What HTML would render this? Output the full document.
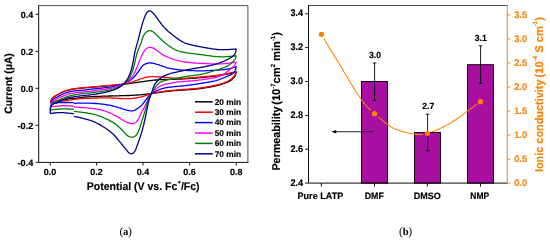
<!DOCTYPE html>
<html><head><meta charset="utf-8"><title>Figure</title>
<style>
html,body{margin:0;padding:0;background:#fff;}
body{width:550px;height:240px;overflow:hidden;}
svg{display:block;}
svg text{text-rendering:geometricPrecision;font-family:"Liberation Sans",Arial,sans-serif;font-weight:bold;fill:#000;stroke:#000;stroke-width:0.16;}
svg text.o{fill:#FF8000;stroke:#FF8000;}
svg text.cap{font-family:"Liberation Serif","Times New Roman",serif;font-weight:normal;stroke:none;}
</style></head><body>
<svg width="550" height="240" viewBox="0 0 550 240">
<rect width="550" height="240" fill="#fff"/>
<!-- left chart (a) -->
<g fill="none" stroke-width="1.3" stroke-linejoin="round" stroke-linecap="butt">
<path d="M50.6 102.5L50.8 101.5L51.1 100.6L51.6 99.7L52.1 98.8L52.7 98L53.4 97.3L54.2 96.7L55.1 96.1L55.9 95.7L56.8 95.2L57.7 94.7L58.6 94.2L59.4 93.7L60.3 93.2L61.2 92.8L62.1 92.3L63 91.9L64 91.6L64.9 91.2L65.9 90.9L66.8 90.6L67.8 90.3L68.7 90.1L69.7 89.8L70.7 89.6L71.7 89.4L72.7 89.2L73.7 89.1L74.7 88.9L75.6 88.8L76.6 88.6L77.6 88.5L78.6 88.4L79.6 88.3L80.6 88.2L81.6 88.1L82.6 88L83.6 87.9L84.6 87.8L85.6 87.7L86.6 87.7L87.6 87.6L88.6 87.5L89.6 87.4L90.6 87.3L91.6 87.3L92.6 87.2L93.6 87.1L94.6 87L95.6 86.9L96.6 86.8L97.6 86.7L98.6 86.6L99.6 86.5L100.6 86.5L101.6 86.4L102.6 86.3L103.6 86.2L104.6 86.1L105.6 86L106.6 85.9L107.6 85.8L108.6 85.7L109.6 85.6L110.6 85.5L111.6 85.5L112.6 85.4L113.6 85.3L114.6 85.2L115.6 85.1L116.6 85L117.6 85L118.6 84.9L119.6 84.8L120.6 84.7L121.6 84.6L122.6 84.4L123.6 84.3L124.6 84.2L125.6 84.1L126.6 83.9L127.6 83.8L128.6 83.7L129.6 83.5L130.6 83.4L131.6 83.2L132.5 83.1L133.5 82.9L134.5 82.8L135.5 82.6L136.5 82.5L137.5 82.3L138.5 82.2L139.5 82.1L140.5 81.9L141.5 81.8L142.5 81.6L143.5 81.5L144.5 81.3L145.5 81.2L146.4 81.1L147.4 80.9L148.4 80.8L149.4 80.7L150.4 80.6L151.4 80.5L152.4 80.3L153.4 80.2L154.4 80.1L155.4 80L156.4 80L157.4 79.9L158.4 79.8L159.4 79.7L160.4 79.7L161.4 79.6L162.4 79.6L163.4 79.5L164.4 79.5L165.4 79.5L166.4 79.5L167.4 79.4L168.4 79.4L169.4 79.4L170.5 79.4L171.5 79.3L172.5 79.3L173.5 79.3L174.5 79.3L175.5 79.2L176.5 79.2L177.5 79.2L178.5 79.1L179.5 79.1L180.5 79L181.5 79L182.5 78.9L183.5 78.9L184.5 78.8L185.5 78.8L186.5 78.7L187.5 78.7L188.5 78.6L189.5 78.5L190.5 78.4L191.5 78.4L192.5 78.3L193.5 78.2L194.5 78.2L195.5 78.1L196.5 78L197.5 77.9L198.5 77.8L199.5 77.7L200.5 77.6L201.5 77.5L202.5 77.5L203.5 77.4L204.5 77.3L205.5 77.2L206.5 77L207.5 76.9L208.5 76.8L209.5 76.7L210.5 76.6L211.5 76.5L212.5 76.4L213.5 76.2L214.5 76.1L215.5 76L216.5 75.8L217.4 75.7L218.4 75.6L219.4 75.4L220.4 75.3L221.4 75.1L222.4 74.9L223.4 74.8L224.4 74.6L225.4 74.4L226.4 74.2L227.3 74.1L228.3 73.9L229.3 73.7L230.3 73.5L231.3 73.3L232.3 73.1L233.3 72.9L234.2 72.7L235.2 72.5L236.2 72.3L236 73.3L235.8 74.3L235.4 75.2L234.9 76.1L234.4 76.9L233.8 77.7L233.1 78.4L232.4 79.1L231.6 79.8L230.8 80.4L229.9 80.9L229 81.4L228.1 81.8L227.2 82.2L226.3 82.6L225.4 83L224.4 83.4L223.5 83.7L222.5 84L221.6 84.3L220.6 84.6L219.7 84.9L218.7 85.1L217.7 85.4L216.7 85.6L215.8 85.9L214.8 86.1L213.8 86.3L212.8 86.5L211.8 86.7L210.9 86.9L209.9 87.1L208.9 87.2L207.9 87.4L206.9 87.6L205.9 87.7L204.9 87.9L203.9 88L202.9 88.2L201.9 88.3L200.9 88.5L200 88.6L199 88.7L198 88.9L197 89L196 89.1L195 89.2L194 89.3L193 89.4L192 89.5L191 89.5L190 89.6L189 89.7L188 89.7L187 89.8L186 89.9L185 89.9L184 90L183 90L182 90.1L181 90.2L180 90.2L179 90.3L178 90.4L177 90.5L176 90.5L175 90.6L174 90.7L173 90.8L172 90.9L171 91L170 91.1L169 91.2L168 91.3L167 91.4L166 91.5L165 91.7L164 91.8L163 91.9L162 92.1L161 92.2L160 92.3L159 92.5L158 92.6L157 92.8L156 92.9L155 93.1L154 93.2L153.1 93.4L152.1 93.5L151.1 93.6L150.1 93.8L149.1 93.9L148.1 94L147.1 94.1L146.1 94.2L145.1 94.3L144.1 94.4L143.1 94.5L142.1 94.6L141.1 94.7L140.1 94.8L139.1 94.9L138.1 94.9L137.1 95L136.1 95.1L135.1 95.2L134.1 95.2L133.1 95.3L132.1 95.3L131.1 95.4L130.1 95.4L129.1 95.5L128.1 95.5L127.1 95.5L126.1 95.6L125.1 95.6L124.1 95.6L123.1 95.7L122.1 95.7L121 95.7L120 95.7L119 95.8L118 95.8L117 95.8L116 95.8L115 95.9L114 95.9L113 95.9L112 95.9L111 96L110 96L109 96L108 96.1L107 96.1L106 96.1L105 96.1L104 96.2L103 96.2L102 96.2L101 96.3L100 96.3L99 96.3L98 96.4L97 96.4L96 96.4L95 96.5L94 96.5L93 96.6L92 96.6L91 96.7L90 96.7L89 96.8L88 96.9L87 96.9L86 97L85 97.1L84 97.2L83 97.3L82 97.5L81 97.6L80 97.7L79 97.9L78 98L77 98.2L76 98.3L75 98.3L74 98.4M74 98.4L73 98.4L71.9 98.4L70.9 98.5L69.9 98.7L68.8 98.8L67.8 99.1L66.8 99.3L65.8 99.6L64.8 99.9L63.8 100.1L62.8 100.4L61.8 100.7L60.8 101L59.8 101.2L58.8 101.5L57.8 101.7L56.8 101.9L55.8 102L54.7 102.2L53.7 102.3L52.7 102.4L51.6 102.4L50.6 102.5" stroke="#000000"/>
<path d="M50.6 102.3L50.8 101.3L51.1 100.4L51.6 99.5L52.1 98.6L52.7 97.8L53.4 97.1L54.2 96.5L55 96L55.9 95.5L56.8 95L57.7 94.5L58.6 94L59.4 93.5L60.3 93L61.2 92.6L62.1 92.1L63 91.7L64 91.4L64.9 91L65.8 90.7L66.8 90.4L67.8 90.1L68.7 89.9L69.7 89.6L70.7 89.4L71.7 89.2L72.7 89L73.6 88.9L74.6 88.7L75.6 88.6L76.6 88.4L77.6 88.3L78.6 88.2L79.6 88.1L80.6 88L81.6 87.9L82.6 87.8L83.6 87.7L84.6 87.6L85.6 87.5L86.6 87.5L87.6 87.4L88.6 87.3L89.6 87.2L90.6 87.2L91.6 87.1L92.6 87L93.6 86.9L94.6 86.8L95.6 86.7L96.6 86.6L97.6 86.5L98.6 86.5L99.6 86.4L100.6 86.3L101.6 86.2L102.6 86.1L103.6 86L104.6 85.9L105.6 85.8L106.6 85.7L107.6 85.6L108.6 85.5L109.6 85.4L110.6 85.3L111.6 85.3L112.6 85.2L113.6 85.1L114.6 85L115.6 84.9L116.6 84.8L117.6 84.7L118.6 84.6L119.5 84.4L120.5 84.3L121.5 84.2L122.5 84L123.5 83.8L124.5 83.7L125.5 83.5L126.5 83.3L127.5 83.2L128.4 82.9L129.4 82.7L130.4 82.5L131.4 82.2L132.3 81.9L133.3 81.6L134.2 81.2L135.1 80.9L136.1 80.5L137 80.2L138 79.8L138.9 79.4L139.8 79.1L140.8 78.8L141.7 78.5L142.7 78.2L143.7 77.9L144.6 77.6L145.6 77.4L146.6 77.2L147.6 77L148.6 76.9L149.6 76.8L150.6 76.7L151.6 76.7L152.6 76.7L153.6 76.7L154.6 76.7L155.6 76.8L156.6 76.8L157.6 76.9L158.6 76.9L159.6 77L160.6 77L161.6 77.1L162.6 77.2L163.6 77.2L164.6 77.3L165.6 77.4L166.6 77.4L167.6 77.5L168.6 77.6L169.6 77.7L170.6 77.8L171.6 78L172.6 78.1L173.6 78.1L174.6 78.2L175.6 78.3L176.6 78.3L177.6 78.4L178.6 78.4L179.6 78.4L180.6 78.4L181.6 78.4L182.6 78.3L183.6 78.3L184.6 78.3L185.6 78.2L186.6 78.2L187.6 78.1L188.6 78L189.6 78L190.6 77.9L191.6 77.8L192.6 77.7L193.6 77.7L194.6 77.6L195.6 77.5L196.6 77.4L197.6 77.3L198.6 77.2L199.6 77.1L200.6 77L201.6 76.9L202.6 76.8L203.6 76.7L204.6 76.6L205.6 76.5L206.6 76.5L207.6 76.4L208.6 76.3L209.6 76.2L210.6 76.1L211.6 76L212.6 75.9L213.6 75.7L214.6 75.6L215.5 75.5L216.5 75.4L217.5 75.3L218.5 75.1L219.5 75L220.5 74.9L221.5 74.7L222.5 74.5L223.5 74.4L224.5 74.2L225.5 74L226.4 73.8L227.4 73.6L228.4 73.4L229.4 73.2L230.4 72.9L231.3 72.7L232.3 72.5L233.3 72.2L234.3 72L235.2 71.7L236.2 71.5L236 72.5L235.7 73.4L235.3 74.3L234.7 75.2L234.2 76L233.5 76.8L232.9 77.5L232.2 78.2L231.4 78.9L230.6 79.5L229.8 80.1L229 80.6L228.1 81.1L227.2 81.5L226.3 81.9L225.3 82.3L224.4 82.7L223.4 83L222.5 83.3L221.5 83.6L220.6 83.9L219.6 84.2L218.7 84.4L217.7 84.7L216.7 84.9L215.7 85.2L214.8 85.4L213.8 85.6L212.8 85.8L211.8 86L210.9 86.2L209.9 86.4L208.9 86.6L207.9 86.8L206.9 86.9L205.9 87.1L204.9 87.3L203.9 87.4L203 87.6L202 87.7L201 87.9L200 88L199 88.1L198 88.3L197 88.4L196 88.5L195 88.6L194 88.7L193 88.8L192 88.9L191 89L190 89L189 89.1L188 89.2L187 89.2L186 89.3L185 89.4L184 89.5L183 89.5L182 89.6L181 89.7L180 89.7L179 89.8L178 89.9L177.1 90L176.1 90.1L175.1 90.1L174.1 90.2L173.1 90.3L172.1 90.4L171.1 90.5L170.1 90.6L169.1 90.7L168.1 90.8L167.1 90.9L166.1 91L165.1 91.1L164.1 91.3L163.1 91.4L162.1 91.5L161.1 91.7L160.1 91.8L159.1 92L158.2 92.1L157.2 92.3L156.2 92.5L155.2 92.7L154.2 92.9L153.2 93.1L152.3 93.3L151.3 93.6L150.4 93.9L149.4 94.3L148.5 94.6L147.6 95L146.6 95.3L145.7 95.6L144.7 95.9L143.7 96.2L142.8 96.5L141.8 96.7L140.8 97L139.9 97.2L138.9 97.5L137.9 97.7L136.9 97.8L135.9 98L135 98.1L134 98.2L133 98.3L132 98.4L131 98.5L130 98.6L129 98.6L128 98.7L127 98.7L126 98.7L125 98.7L124 98.7L123 98.7L122 98.6L121 98.5L120 98.5L119 98.4L118 98.3L117 98.3L116 98.2L115 98.1L114 98.1L113 98L112 98L111 97.9L110 97.9L109 97.8L108 97.8L107 97.8L106 97.8L105 97.8L104 97.8L103 97.8L102 97.8L101 97.9L100 97.9L99 97.9L98 98L97 98L96 98L95 98.1L94 98.1L93 98.2L92 98.2L91 98.3L90 98.3L89 98.3L88 98.3L87 98.4L86 98.4L85 98.4L84 98.4L83 98.5L82 98.5L81 98.6L80 98.7L79 98.8L78 98.9L77 99L76 99.2L75 99.3L74 99.4M74 99.4L73 99.6L72 99.7L71 99.9L70 100.1L68.9 100.2L67.9 100.3L66.9 100.5L65.9 100.6L64.9 100.7L63.8 100.8L62.8 100.9L61.8 101L60.8 101.1L59.8 101.2L58.7 101.3L57.7 101.4L56.7 101.5L55.7 101.6L54.7 101.7L53.6 101.8L52.6 101.9L51.6 102.1L50.6 102.3" stroke="#FF0000"/>
<path d="M51 103.7L51.1 102.7L51.4 101.7L51.9 100.9L52.5 100.1L53.2 99.4L54 98.7L54.8 98.2L55.7 97.7L56.6 97.3L57.5 96.8L58.3 96.3L59.2 95.9L60.1 95.4L61 95L61.9 94.5L62.8 94.1L63.8 93.7L64.7 93.3L65.6 93L66.6 92.6L67.5 92.3L68.5 92L69.4 91.8L70.4 91.6L71.4 91.4L72.4 91.2L73.4 91.1L74.4 90.9L75.4 90.8L76.4 90.7L77.4 90.6L78.3 90.5L79.3 90.5L80.3 90.4L81.3 90.3L82.3 90.2L83.3 90.2L84.3 90.1L85.3 90L86.3 89.8L87.3 89.7L88.3 89.5L89.3 89.4L90.3 89.3L91.3 89.1L92.3 89L93.3 88.9L94.3 88.8L95.3 88.7L96.3 88.6L97.3 88.5L98.2 88.4L99.2 88.3L100.2 88.2L101.2 88.1L102.2 88L103.2 87.9L104.2 87.8L105.2 87.7L106.2 87.6L107.2 87.5L108.2 87.4L109.2 87.2L110.2 87.1L111.2 86.9L112.2 86.7L113.1 86.5L114.1 86.3L115.1 86.1L116.1 85.8L117 85.6L118 85.4L119 85.1L120 84.9L120.9 84.7L121.9 84.4L122.9 84.1L123.8 83.8L124.7 83.4L125.6 82.9L126.4 82.3L127.3 81.8L128.2 81.4L129.1 80.9L129.9 80.4L130.8 79.9L131.6 79.3L132.4 78.6L133.1 78L133.8 77.3L134.5 76.5L135.2 75.8L135.8 75L136.4 74.2L137 73.4L137.6 72.6L138.2 71.8L138.8 71L139.4 70.2L139.9 69.3L140.5 68.5L141.1 67.7L141.7 66.9L142.3 66.1L143 65.4L143.8 64.8L144.7 64.3L145.6 63.9L146.5 63.5L147.5 63.3L148.5 63L149.4 62.9L150.5 62.9L151.4 63L152.4 63.2L153.4 63.4L154.4 63.6L155.4 63.8L156.3 64.1L157.3 64.4L158.3 64.6L159.2 64.9L160.2 65.3L161.1 65.6L162 65.9L163 66.3L163.9 66.6L164.9 66.9L165.8 67.3L166.8 67.6L167.7 67.8L168.7 68.1L169.7 68.3L170.7 68.6L171.6 68.7L172.6 68.9L173.6 69.1L174.6 69.2L175.6 69.4L176.6 69.5L177.6 69.6L178.6 69.7L179.6 69.9L180.6 70L181.6 70.1L182.6 70.1L183.6 70.2L184.6 70.3L185.6 70.4L186.6 70.4L187.6 70.5L188.6 70.5L189.6 70.6L190.6 70.6L191.6 70.7L192.6 70.7L193.6 70.7L194.6 70.7L195.6 70.8L196.6 70.8L197.6 70.8L198.6 70.8L199.6 70.8L200.6 70.8L201.6 70.8L202.6 70.8L203.6 70.8L204.6 70.8L205.6 70.7L206.6 70.7L207.6 70.7L208.6 70.6L209.6 70.6L210.6 70.5L211.6 70.5L212.6 70.4L213.6 70.4L214.6 70.3L215.6 70.3L216.6 70.2L217.6 70.1L218.6 70.1L219.6 70L220.6 69.9L221.6 69.8L222.6 69.7L223.6 69.6L224.6 69.5L225.5 69.4L226.5 69.3L227.5 69.1L228.5 68.9L229.5 68.7L230.5 68.5L231.4 68.2L232.4 67.9L233.3 67.6L234.3 67.3L235.3 67L236.2 66.7L236 67.7L235.7 68.7L235.5 69.6L235.1 70.6L234.7 71.5L234.2 72.3L233.4 73L232.6 73.6L231.8 74.1L230.9 74.6L230 75.1L229.1 75.5L228.1 75.9L227.2 76.3L226.3 76.7L225.4 77.1L224.5 77.5L223.5 77.9L222.6 78.2L221.7 78.6L220.7 79L219.8 79.4L218.9 79.7L217.9 80L216.9 80.3L216 80.6L215 80.9L214 81.1L213 81.3L212.1 81.5L211.1 81.7L210.1 81.9L209.1 82.1L208.1 82.2L207.1 82.4L206.1 82.6L205.1 82.7L204.1 82.9L203.1 83L202.1 83.2L201.2 83.4L200.2 83.5L199.2 83.7L198.2 83.8L197.2 84L196.2 84.1L195.2 84.3L194.2 84.4L193.2 84.6L192.2 84.7L191.2 84.8L190.2 85L189.2 85.1L188.2 85.2L187.2 85.3L186.2 85.5L185.2 85.6L184.2 85.7L183.2 85.8L182.2 85.9L181.2 86L180.2 86.1L179.2 86.2L178.2 86.3L177.2 86.4L176.2 86.5L175.2 86.6L174.2 86.7L173.2 86.8L172.2 86.9L171.2 87L170.2 87.1L169.2 87.2L168.2 87.4L167.2 87.5L166.2 87.7L165.2 87.9L164.3 88.1L163.3 88.3L162.3 88.6L161.4 88.9L160.4 89.2L159.5 89.6L158.5 90L157.6 90.4L156.7 90.8L155.8 91.2L154.9 91.6L153.9 92L153.1 92.5L152.2 93L151.4 93.6L150.6 94.2L149.9 94.9L149.2 95.6L148.5 96.4L147.9 97.2L147.3 98L146.7 98.8L146.1 99.6L145.5 100.4L144.9 101.2L144.3 102L143.7 102.8L143 103.6L142.4 104.3L141.7 105.1L141 105.8L140.2 106.5L139.5 107.1L138.7 107.7L137.9 108.3L137 108.9L136.2 109.4L135.3 109.9L134.4 110.3L133.4 110.6L132.4 110.8L131.4 110.9L130.4 110.8L129.4 110.7L128.4 110.5L127.5 110.3L126.5 110L125.5 109.8L124.6 109.5L123.6 109.2L122.6 108.9L121.7 108.6L120.7 108.2L119.8 107.9L118.8 107.6L117.9 107.3L116.9 107L115.9 106.8L115 106.5L114 106.2L113 106L112 105.8L111.1 105.5L110.1 105.3L109.1 105.1L108.1 105L107.1 104.8L106.1 104.6L105.1 104.5L104.1 104.4L103.1 104.2L102.1 104.1L101.1 104L100.1 103.9L99.1 103.8L98.1 103.7L97.1 103.6L96.1 103.5L95.1 103.5L94.1 103.4L93.1 103.4L92.1 103.3L91.1 103.3L90.1 103.2L89.1 103.2L88.1 103.2L87.1 103.2L86.1 103.2L85.1 103.2L84.1 103.2L83 103.2L82 103.2L81 103.2L80 103.2L79 103.2L78 103.2L77 103.2L76 103.3L75 103.3L74 103.3M74 102.7L73 102.7L72 102.6L71 102.6L70 102.6L69 102.5L68 102.5L67 102.5L66 102.5L65 102.5L64 102.5L63 102.5L62 102.5L61 102.6L60 102.6L59 102.7L58 102.8L57 102.9L56 103L55 103.1L54 103.2L53 103.4L52 103.5L51 103.7" stroke="#0000FF"/>
<path d="M51 106.9L51 105.9L51 104.9L51.2 103.9L51.7 103L52.3 102.2L53 101.5L53.8 100.8L54.5 100.2L55.4 99.7L56.2 99.1L57.1 98.7L58 98.2L59 97.8L59.9 97.5L60.8 97.1L61.8 96.7L62.7 96.3L63.6 95.9L64.5 95.6L65.5 95.2L66.4 94.8L67.4 94.5L68.3 94.2L69.3 93.9L70.3 93.7L71.3 93.5L72.2 93.3L73.2 93.1L74.2 92.9L75.2 92.8L76.2 92.7L77.2 92.5L78.2 92.4L79.2 92.3L80.2 92.2L81.2 92.1L82.2 92L83.2 91.9L84.2 91.8L85.2 91.7L86.2 91.6L87.2 91.5L88.2 91.5L89.2 91.4L90.2 91.3L91.2 91.1L92.2 91L93.2 90.9L94.2 90.7L95.2 90.5L96.2 90.4L97.2 90.2L98.2 90.1L99.2 89.9L100.2 89.8L101.2 89.6L102.2 89.5L103.2 89.4L104.2 89.2L105.2 89.1L106.2 89L107.1 88.8L108.1 88.6L109.1 88.5L110.1 88.3L111.1 88.1L112.1 87.8L113.1 87.6L114 87.3L115 87L116 86.8L116.9 86.5L117.9 86.1L118.8 85.8L119.8 85.5L120.7 85.1L121.7 84.8L122.6 84.4L123.5 84L124.4 83.5L125.2 82.9L126 82.3L126.8 81.8L127.7 81.2L128.5 80.6L129.2 79.9L130 79.2L130.7 78.5L131.3 77.7L131.9 76.9L132.5 76.1L133 75.3L133.6 74.4L134.1 73.5L134.5 72.6L135 71.7L135.4 70.8L135.8 69.9L136.2 69L136.6 68.1L137 67.1L137.4 66.2L137.8 65.3L138.1 64.3L138.5 63.4L138.8 62.5L139.2 61.5L139.6 60.6L139.9 59.6L140.3 58.7L140.7 57.8L141.1 56.9L141.5 55.9L141.9 55L142.4 54.1L142.9 53.2L143.4 52.4L143.9 51.5L144.4 50.7L145.1 49.9L145.8 49.2L146.5 48.5L147.4 48L148.3 47.6L149.3 47.4L150.3 47.4L151.3 47.5L152.3 47.8L153.2 48.2L154.1 48.6L155 49.1L155.8 49.7L156.7 50.3L157.5 50.9L158.3 51.5L159.1 52.1L159.9 52.7L160.7 53.3L161.5 53.9L162.3 54.4L163.2 54.9L164.1 55.4L165 55.9L165.9 56.3L166.8 56.7L167.7 57.1L168.7 57.5L169.6 57.8L170.5 58.2L171.5 58.6L172.4 58.9L173.4 59.3L174.3 59.6L175.3 59.9L176.2 60.2L177.2 60.4L178.2 60.7L179.2 60.9L180.2 61.1L181.1 61.3L182.1 61.5L183.1 61.7L184.1 61.8L185.1 62L186.1 62.1L187.1 62.3L188.1 62.4L189.1 62.5L190.1 62.6L191.1 62.7L192.1 62.8L193.1 62.9L194.1 63L195.1 63L196.1 63.1L197.1 63.1L198.1 63.2L199.1 63.3L200.1 63.3L201.1 63.4L202.1 63.4L203.1 63.5L204.1 63.5L205.2 63.6L206.2 63.6L207.2 63.7L208.2 63.7L209.2 63.8L210.2 63.8L211.2 63.9L212.2 63.9L213.2 64L214.2 64L215.2 64L216.2 64L217.2 64L218.2 64L219.2 63.9L220.2 63.9L221.2 63.8L222.2 63.8L223.2 63.7L224.2 63.7L225.2 63.6L226.2 63.5L227.2 63.4L228.2 63.3L229.2 63.2L230.2 63L231.2 62.9L232.2 62.8L233.2 62.6L234.2 62.4L235.2 62.3L236.2 62.1L235.8 63L235.3 63.9L234.8 64.8L234.2 65.6L233.6 66.3L232.9 67L232.1 67.7L231.4 68.4L230.6 69L229.8 69.6L229 70.2L228.2 70.8L227.4 71.4L226.6 72L225.8 72.6L224.9 73.2L224.1 73.7L223.2 74.3L222.4 74.8L221.5 75.3L220.6 75.8L219.7 76.2L218.8 76.6L217.9 76.9L216.9 77.2L215.9 77.4L214.9 77.6L214 77.8L213 78L212 78.2L211 78.4L210 78.5L209 78.7L208 78.8L207 79L206 79.1L205.1 79.3L204.1 79.4L203.1 79.5L202.1 79.7L201.1 79.8L200.1 79.9L199.1 80L198.1 80.2L197.1 80.3L196.1 80.4L195.1 80.5L194.1 80.6L193.1 80.7L192.1 80.8L191.1 80.9L190.1 80.9L189.1 81L188.1 81.1L187.1 81.2L186.1 81.3L185.1 81.4L184.1 81.4L183.1 81.5L182.1 81.6L181.1 81.7L180.1 81.8L179.1 81.8L178.1 81.9L177.1 82L176.1 82.2L175.1 82.3L174.1 82.5L173.2 82.7L172.2 82.9L171.2 83.1L170.2 83.3L169.2 83.4L168.2 83.6L167.2 83.8L166.3 84L165.3 84.2L164.3 84.5L163.3 84.8L162.4 85.1L161.4 85.4L160.5 85.8L159.6 86.3L158.8 86.8L158 87.4L157.1 88L156.4 88.6L155.6 89.2L154.8 89.8L154.1 90.5L153.3 91.2L152.6 91.9L152 92.7L151.4 93.5L150.8 94.3L150.3 95.2L149.8 96L149.3 96.9L148.9 97.8L148.4 98.7L148 99.6L147.6 100.5L147.2 101.5L146.8 102.4L146.3 103.3L145.9 104.2L145.4 105.1L145 106L144.5 106.9L144.1 107.8L143.6 108.6L143.1 109.5L142.7 110.4L142.2 111.3L141.8 112.2L141.3 113.1L140.9 114L140.5 114.9L140 115.8L139.5 116.7L139.1 117.6L138.6 118.5L138.1 119.3L137.6 120.2L137 121L136.4 121.8L135.6 122.5L134.8 123L133.8 123.4L132.9 123.5L131.9 123.6L130.9 123.5L129.9 123.3L128.9 123.1L128 122.7L127 122.3L126.1 121.9L125.2 121.5L124.3 121L123.5 120.5L122.6 120L121.8 119.5L120.9 119L120 118.4L119.2 117.9L118.3 117.4L117.5 116.8L116.6 116.3L115.8 115.8L114.9 115.3L114 114.9L113.1 114.4L112.2 114L111.3 113.5L110.4 113.1L109.5 112.7L108.5 112.3L107.6 112L106.7 111.6L105.7 111.3L104.8 111L103.8 110.7L102.8 110.4L101.9 110.2L100.9 109.9L99.9 109.7L98.9 109.5L97.9 109.3L97 109.1L96 109L95 108.8L94 108.7L93 108.6L92 108.4L91 108.3L90 108.2L89 108.1L88 108L87 107.9L86 107.9L85 107.8L84 107.7L83 107.6L82 107.6L81 107.5L80 107.4L79 107.3L78 107.3L77 107.2L76 107.1L75 107.1L74 107M74 106.2L73 106.1L72 106L71 106L70 105.9L69 105.8L68 105.8L67 105.7L66 105.7L65 105.7L64 105.7L63 105.7L62 105.7L61 105.7L60 105.8L59 105.9L58 106L57 106.1L56 106.2L55 106.3L54 106.5L53 106.6L52 106.8L51 106.9" stroke="#FF00FF"/>
<path d="M50.5 110L50.5 109L50.5 108L50.6 107L50.8 106L51.2 105.1L51.8 104.3L52.5 103.5L53.2 102.9L54.1 102.3L54.9 101.8L55.8 101.4L56.7 100.9L57.6 100.5L58.5 100.1L59.4 99.7L60.4 99.3L61.3 98.9L62.2 98.5L63.2 98.1L64.1 97.8L65 97.4L66 97.1L66.9 96.7L67.9 96.4L68.9 96.1L69.8 95.9L70.8 95.6L71.8 95.4L72.8 95.2L73.7 95L74.7 94.8L75.7 94.6L76.7 94.4L77.7 94.3L78.7 94.1L79.7 94L80.7 93.8L81.7 93.7L82.7 93.6L83.7 93.4L84.7 93.3L85.7 93.2L86.7 93.2L87.7 93.1L88.7 93L89.7 92.9L90.7 92.8L91.7 92.7L92.7 92.6L93.7 92.5L94.6 92.4L95.6 92.2L96.6 92.1L97.6 91.9L98.6 91.8L99.6 91.7L100.6 91.5L101.6 91.4L102.6 91.2L103.6 91.1L104.6 90.9L105.6 90.7L106.6 90.5L107.5 90.3L108.5 90.1L109.5 89.9L110.5 89.7L111.5 89.4L112.4 89.2L113.4 88.9L114.3 88.6L115.3 88.2L116.2 87.9L117.2 87.5L118.1 87.1L119 86.7L119.9 86.2L120.8 85.7L121.6 85.2L122.5 84.7L123.3 84.1L124.1 83.6L124.9 82.9L125.7 82.3L126.4 81.6L127.1 80.9L127.8 80.1L128.4 79.3L129 78.5L129.5 77.6L130 76.8L130.4 75.9L130.8 74.9L131.2 74L131.6 73.1L132 72.2L132.3 71.2L132.6 70.3L133 69.3L133.3 68.3L133.5 67.4L133.8 66.4L134.1 65.4L134.3 64.5L134.6 63.5L134.8 62.5L135 61.5L135.3 60.6L135.5 59.6L135.7 58.6L135.9 57.6L136.1 56.7L136.4 55.7L136.6 54.7L136.9 53.7L137.2 52.8L137.5 51.8L137.8 50.9L138.1 49.9L138.5 49L138.9 48.1L139.3 47.1L139.7 46.2L140.1 45.3L140.5 44.4L140.8 43.4L141.2 42.5L141.5 41.5L141.7 40.6L142 39.6L142.4 38.6L142.7 37.7L143.1 36.8L143.5 35.9L144 35L144.5 34.1L145.1 33.3L145.8 32.6L146.6 31.9L147.4 31.3L148.3 30.9L149.3 30.6L150.3 30.6L151.2 30.9L152.1 31.3L153 31.8L153.8 32.4L154.6 33L155.4 33.6L156.1 34.3L156.8 35.1L157.5 35.8L158.2 36.5L158.9 37.2L159.6 37.9L160.3 38.6L161.1 39.3L161.8 40L162.5 40.7L163.3 41.4L164 42L164.8 42.7L165.6 43.3L166.4 43.9L167.2 44.6L168 45.2L168.8 45.7L169.6 46.3L170.4 46.9L171.3 47.4L172.1 48L173 48.5L173.9 49L174.7 49.5L175.6 49.9L176.6 50.3L177.5 50.7L178.4 51L179.4 51.3L180.4 51.6L181.3 51.8L182.3 52L183.3 52.2L184.3 52.4L185.3 52.6L186.3 52.8L187.3 52.9L188.3 53.1L189.3 53.2L190.2 53.3L191.2 53.5L192.2 53.6L193.2 53.7L194.2 53.8L195.2 53.9L196.2 54.1L197.2 54.2L198.2 54.3L199.2 54.4L200.2 54.5L201.2 54.6L202.2 54.8L203.2 54.9L204.2 55L205.2 55.2L206.2 55.3L207.2 55.5L208.2 55.6L209.2 55.7L210.2 55.9L211.2 56L212.2 56.2L213.2 56.3L214.2 56.4L215.2 56.5L216.2 56.6L217.2 56.6L218.2 56.7L219.2 56.7L220.2 56.8L221.2 56.8L222.2 56.8L223.2 56.8L224.2 56.8L225.2 56.7L226.2 56.7L227.2 56.6L228.2 56.6L229.2 56.5L230.2 56.5L231.2 56.4L232.2 56.3L233.2 56.2L234.2 56.1L235.2 56L236.2 55.9L235.9 56.9L235.6 57.8L235.2 58.7L234.7 59.6L234.1 60.4L233.5 61.2L232.8 61.9L232 62.6L231.3 63.3L230.5 63.9L229.7 64.5L228.9 65.1L228 65.6L227.1 66.1L226.2 66.6L225.3 67L224.4 67.4L223.4 67.7L222.5 68.1L221.5 68.4L220.6 68.7L219.6 69L218.7 69.3L217.7 69.6L216.8 69.9L215.8 70.2L214.8 70.5L213.9 70.8L212.9 71.1L211.9 71.4L211 71.7L210 72L209.1 72.3L208.1 72.6L207.1 72.9L206.2 73.2L205.2 73.4L204.2 73.7L203.2 73.9L202.3 74.1L201.3 74.3L200.3 74.5L199.3 74.7L198.3 74.8L197.3 75L196.3 75.1L195.3 75.2L194.3 75.3L193.3 75.5L192.3 75.6L191.3 75.7L190.3 75.9L189.3 76L188.3 76.1L187.3 76.3L186.3 76.4L185.3 76.6L184.3 76.8L183.3 76.9L182.3 77.1L181.4 77.3L180.4 77.4L179.4 77.6L178.4 77.8L177.4 78L176.4 78.1L175.4 78.3L174.4 78.5L173.4 78.7L172.4 78.9L171.4 79.1L170.5 79.3L169.5 79.5L168.5 79.7L167.5 79.9L166.5 80.1L165.5 80.3L164.6 80.6L163.6 80.9L162.7 81.2L161.7 81.6L160.8 82L159.9 82.5L159.1 83.1L158.3 83.7L157.6 84.4L156.9 85.1L156.2 85.9L155.6 86.7L155 87.5L154.4 88.3L153.9 89.2L153.3 90L152.8 90.9L152.3 91.8L151.8 92.6L151.3 93.5L150.9 94.4L150.4 95.3L150 96.2L149.5 97.1L149.1 98L148.7 98.9L148.3 99.9L148 100.8L147.7 101.8L147.4 102.7L147.1 103.7L146.8 104.7L146.5 105.6L146.3 106.6L146 107.6L145.7 108.6L145.4 109.5L145.2 110.5L144.9 111.4L144.6 112.4L144.3 113.4L144 114.3L143.7 115.3L143.4 116.3L143.1 117.2L142.8 118.2L142.5 119.1L142.2 120.1L141.9 121.1L141.6 122L141.3 123L141 124L140.7 124.9L140.4 125.9L140.1 126.8L139.8 127.8L139.5 128.7L139.1 129.7L138.8 130.6L138.4 131.6L137.9 132.5L137.5 133.4L136.9 134.2L136.3 135L135.6 135.7L134.8 136.3L133.9 136.8L133 137.1L132 137.2L131 137.1L130 136.9L129 136.5L128.1 136.1L127.3 135.5L126.5 134.9L125.8 134.2L125.1 133.4L124.4 132.7L123.8 131.9L123.1 131.2L122.4 130.5L121.7 129.7L121 129L120.3 128.3L119.6 127.6L118.9 126.9L118.1 126.2L117.4 125.5L116.6 124.9L115.8 124.3L115 123.7L114.1 123.1L113.3 122.6L112.4 122.1L111.6 121.6L110.7 121.1L109.8 120.6L108.9 120.1L108 119.7L107.1 119.2L106.2 118.8L105.3 118.4L104.3 118L103.4 117.6L102.5 117.2L101.5 116.9L100.6 116.5L99.7 116.2L98.7 115.8L97.8 115.5L96.8 115.2L95.8 114.9L94.9 114.7L93.9 114.4L92.9 114.2L91.9 113.9L90.9 113.7L90 113.5L89 113.3L88 113.2L87 113L86 112.8L85 112.7L84 112.6L83 112.4L82 112.3L81 112.2L80 112.1L79 111.9L78 111.8L77 111.7L76 111.6L75 111.5L74 111.4M74 109.4L73 109.3L72 109.2L70.9 109.2L69.9 109.1L68.9 109L67.9 109L66.8 108.9L65.8 108.9L64.8 108.9L63.8 108.9L62.7 108.9L61.7 108.9L60.7 108.9L59.7 109L58.6 109.1L57.6 109.2L56.6 109.3L55.6 109.4L54.6 109.5L53.5 109.6L52.5 109.7L51.5 109.9L50.5 110" stroke="#008000"/>
<path d="M50.3 113.6L50.3 112.6L50.2 111.6L50.2 110.6L50.2 109.6L50.3 108.6L50.5 107.6L50.8 106.7L51.3 105.8L51.9 105L52.7 104.4L53.6 103.9L54.5 103.5L55.4 103.2L56.4 102.8L57.3 102.3L58.2 101.9L59.1 101.4L60 101L60.9 100.5L61.8 100.1L62.7 99.7L63.6 99.3L64.5 99L65.5 98.7L66.4 98.4L67.4 98.1L68.4 97.8L69.4 97.6L70.3 97.4L71.3 97.2L72.3 97.1L73.3 96.9L74.3 96.7L75.3 96.6L76.3 96.5L77.3 96.3L78.3 96.2L79.2 96.1L80.2 95.9L81.2 95.8L82.2 95.7L83.2 95.6L84.2 95.5L85.2 95.4L86.2 95.3L87.2 95.2L88.2 95.1L89.2 95L90.2 94.9L91.2 94.7L92.2 94.6L93.2 94.4L94.2 94.3L95.1 94.1L96.1 94L97.1 93.8L98.1 93.6L99.1 93.5L100.1 93.3L101.1 93.1L102.1 92.9L103 92.8L104 92.6L105 92.4L106 92.2L107 92L107.9 91.7L108.9 91.5L109.9 91.2L110.8 91L111.8 90.7L112.7 90.3L113.7 90L114.6 89.6L115.5 89.2L116.5 88.8L117.4 88.4L118.2 87.9L119.1 87.4L120 86.9L120.8 86.3L121.6 85.8L122.4 85.1L123.1 84.5L123.8 83.8L124.5 83L125.1 82.2L125.7 81.4L126.3 80.6L126.9 79.8L127.4 78.9L127.9 78.1L128.4 77.2L128.8 76.3L129.3 75.4L129.6 74.5L130 73.5L130.4 72.6L130.7 71.6L131 70.7L131.3 69.7L131.6 68.8L131.8 67.8L132.1 66.8L132.3 65.9L132.5 64.9L132.7 63.9L132.9 62.9L133.1 61.9L133.3 61L133.5 60L133.7 59L133.8 58L134 57L134.2 56L134.3 55L134.5 54L134.7 53.1L134.9 52.1L135.1 51.1L135.4 50.1L135.6 49.2L135.9 48.2L136.1 47.2L136.4 46.3L136.7 45.3L136.9 44.3L137.2 43.4L137.5 42.4L137.8 41.4L138 40.5L138.3 39.5L138.5 38.5L138.7 37.6L139 36.6L139.2 35.6L139.5 34.6L139.7 33.7L139.9 32.7L140.2 31.7L140.4 30.8L140.7 29.8L141 28.8L141.2 27.9L141.5 26.9L141.8 25.9L142 25L142.3 24L142.6 23L142.9 22.1L143.2 21.1L143.5 20.2L143.8 19.2L144.2 18.3L144.5 17.4L144.9 16.4L145.3 15.5L145.7 14.6L146.2 13.7L146.7 12.9L147.3 12.1L148.1 11.4L148.9 10.9L149.9 10.8L150.8 11.2L151.7 11.8L152.4 12.4L153.2 13.1L153.8 13.8L154.5 14.6L155.1 15.4L155.7 16.2L156.3 17L156.9 17.8L157.4 18.6L158 19.5L158.6 20.3L159.2 21.1L159.8 21.9L160.4 22.7L161 23.5L161.6 24.3L162.2 25.1L162.9 25.8L163.5 26.6L164.2 27.3L164.9 28.1L165.6 28.8L166.3 29.5L167 30.2L167.7 30.9L168.5 31.5L169.2 32.2L170 32.8L170.8 33.5L171.5 34.1L172.3 34.8L173.1 35.4L173.9 36L174.7 36.6L175.5 37.2L176.3 37.8L177.1 38.4L177.9 38.9L178.8 39.5L179.6 40L180.5 40.6L181.3 41.1L182.2 41.6L183.1 42L184 42.5L184.9 42.9L185.8 43.3L186.8 43.6L187.7 44L188.7 44.2L189.6 44.5L190.6 44.7L191.6 45L192.5 45.2L193.5 45.4L194.5 45.6L195.5 45.8L196.5 46L197.5 46.2L198.4 46.4L199.4 46.6L200.4 46.8L201.4 46.9L202.4 47.1L203.4 47.3L204.3 47.5L205.3 47.6L206.3 47.8L207.3 48L208.3 48.2L209.3 48.3L210.3 48.5L211.3 48.7L212.2 48.8L213.2 49L214.2 49.1L215.2 49.2L216.2 49.4L217.2 49.5L218.2 49.6L219.2 49.6L220.2 49.7L221.2 49.7L222.2 49.7L223.2 49.7L224.2 49.7L225.2 49.7L226.2 49.7L227.2 49.6L228.2 49.6L229.2 49.5L230.2 49.4L231.2 49.4L232.2 49.3L233.2 49.2L234.2 49.2L235.2 49.1L236.2 49L236.1 50L235.9 51L235.7 52L235.4 52.9L235 53.8L234.4 54.7L233.7 55.4L233 56.1L232.2 56.7L231.4 57.3L230.5 57.8L229.7 58.3L228.8 58.8L227.9 59.3L227 59.7L226.1 60.2L225.2 60.6L224.3 61L223.3 61.4L222.4 61.8L221.5 62.2L220.5 62.5L219.6 62.9L218.6 63.2L217.7 63.5L216.7 63.8L215.8 64.1L214.8 64.4L213.8 64.7L212.9 64.9L211.9 65.2L210.9 65.4L209.9 65.6L209 65.8L208 66L207 66.2L206 66.4L205 66.6L204 66.8L203 67L202.1 67.1L201.1 67.3L200.1 67.5L199.1 67.7L198.1 67.8L197.1 68L196.1 68.2L195.1 68.4L194.1 68.5L193.1 68.7L192.2 68.9L191.2 69.1L190.2 69.2L189.2 69.4L188.2 69.6L187.2 69.8L186.2 70L185.3 70.2L184.3 70.4L183.3 70.6L182.3 70.8L181.3 71L180.3 71.2L179.4 71.4L178.4 71.6L177.4 71.8L176.4 72.1L175.4 72.3L174.4 72.5L173.5 72.7L172.5 73L171.5 73.2L170.6 73.5L169.6 73.8L168.6 74.1L167.7 74.4L166.7 74.8L165.8 75.2L164.9 75.6L164 76.1L163.2 76.6L162.3 77.1L161.5 77.7L160.6 78.2L159.8 78.8L159 79.5L158.3 80.1L157.6 80.8L156.9 81.5L156.2 82.3L155.6 83.1L155.1 83.9L154.6 84.8L154.1 85.7L153.7 86.6L153.4 87.6L153 88.5L152.7 89.5L152.4 90.4L152 91.4L151.7 92.3L151.4 93.3L151.1 94.2L150.7 95.2L150.4 96.1L150.1 97.1L149.7 98L149.4 99L149.1 99.9L148.8 100.9L148.6 101.9L148.3 102.8L148.1 103.8L147.9 104.8L147.7 105.8L147.5 106.8L147.3 107.7L147.1 108.7L146.9 109.7L146.7 110.7L146.5 111.7L146.3 112.7L146.1 113.6L145.9 114.6L145.7 115.6L145.5 116.6L145.3 117.6L145.1 118.6L144.9 119.6L144.7 120.5L144.5 121.5L144.2 122.5L144 123.5L143.8 124.5L143.5 125.4L143.3 126.4L143 127.4L142.8 128.3L142.5 129.3L142.2 130.3L141.9 131.2L141.7 132.2L141.4 133.2L141.1 134.1L140.8 135.1L140.5 136L140.2 137L139.8 138L139.5 138.9L139.2 139.9L138.8 140.8L138.5 141.7L138.2 142.7L137.8 143.6L137.5 144.6L137.1 145.5L136.8 146.5L136.5 147.4L136.1 148.4L135.8 149.3L135.4 150.2L134.9 151.1L134.3 151.9L133.6 152.7L132.8 153.3L131.9 153.7L130.9 153.8L130 153.5L129.2 152.9L128.4 152.2L127.7 151.5L127.1 150.7L126.5 149.9L125.8 149.2L125.2 148.4L124.5 147.6L123.9 146.9L123.2 146.1L122.6 145.3L122 144.5L121.3 143.7L120.7 142.9L120.1 142.2L119.5 141.4L118.8 140.6L118.2 139.8L117.6 139L116.9 138.2L116.3 137.5L115.6 136.7L115 136L114.3 135.2L113.6 134.5L112.8 133.8L112.1 133.2L111.3 132.5L110.5 131.9L109.8 131.3L109 130.7L108.1 130.1L107.3 129.5L106.5 128.9L105.7 128.3L104.8 127.8L104 127.2L103.1 126.7L102.3 126.2L101.4 125.6L100.6 125.1L99.7 124.6L98.8 124.1L97.9 123.7L97 123.2L96.1 122.8L95.2 122.3L94.3 121.9L93.4 121.5L92.5 121.2L91.5 120.8L90.6 120.5L89.6 120.2L88.7 119.9L87.7 119.6L86.7 119.3L85.8 119.1L84.8 118.8L83.8 118.6L82.8 118.3L81.9 118.1L80.9 117.8L79.9 117.6L78.9 117.4L77.9 117.2L77 117L76 116.8L75 116.6L74 116.4M74 113.8L73 113.7L71.9 113.5L70.9 113.4L69.9 113.3L68.9 113.2L67.8 113.1L66.8 113L65.8 112.9L64.7 112.8L63.7 112.7L62.7 112.7L61.6 112.6L60.6 112.6L59.6 112.6L58.5 112.6L57.5 112.7L56.5 112.8L55.4 112.9L54.4 113L53.4 113.1L52.3 113.3L51.3 113.4L50.3 113.6" stroke="#00008B"/>
</g>
<path d="M38.7 5.6H247.9V162.4" fill="none" stroke="#222" stroke-width="0.8"/>
<path d="M38.7 5.2V162.4H248.4" fill="none" stroke="#000" stroke-width="0.95"/>
<line x1="35.5" x2="38.7" y1="14.3" y2="14.3" stroke="#000" stroke-width="0.9"/>
<text x="33.3" y="17.5" font-size="9" text-anchor="end" textLength="12.5" lengthAdjust="spacingAndGlyphs">0.4</text>
<line x1="35.5" x2="38.7" y1="51.3" y2="51.3" stroke="#000" stroke-width="0.9"/>
<text x="33.3" y="54.5" font-size="9" text-anchor="end" textLength="12.5" lengthAdjust="spacingAndGlyphs">0.2</text>
<line x1="35.5" x2="38.7" y1="88.3" y2="88.3" stroke="#000" stroke-width="0.9"/>
<text x="33.3" y="91.5" font-size="9" text-anchor="end" textLength="12.5" lengthAdjust="spacingAndGlyphs">0.0</text>
<line x1="35.5" x2="38.7" y1="125.3" y2="125.3" stroke="#000" stroke-width="0.9"/>
<text x="33.3" y="128.5" font-size="9" text-anchor="end" textLength="15.8" lengthAdjust="spacingAndGlyphs">-0.2</text>
<line x1="35.5" x2="38.7" y1="162.3" y2="162.3" stroke="#000" stroke-width="0.9"/>
<text x="33.3" y="165.5" font-size="9" text-anchor="end" textLength="15.8" lengthAdjust="spacingAndGlyphs">-0.4</text>
<line x1="50.2" x2="50.2" y1="162.4" y2="165.6" stroke="#000" stroke-width="0.9"/>
<text x="50.1" y="175.3" font-size="9" text-anchor="middle" textLength="12.5" lengthAdjust="spacingAndGlyphs">0.0</text>
<line x1="96.7" x2="96.7" y1="162.4" y2="165.6" stroke="#000" stroke-width="0.9"/>
<text x="96.6" y="175.3" font-size="9" text-anchor="middle" textLength="12.5" lengthAdjust="spacingAndGlyphs">0.2</text>
<line x1="143.0" x2="143.0" y1="162.4" y2="165.6" stroke="#000" stroke-width="0.9"/>
<text x="142.9" y="175.3" font-size="9" text-anchor="middle" textLength="12.5" lengthAdjust="spacingAndGlyphs">0.4</text>
<line x1="189.7" x2="189.7" y1="162.4" y2="165.6" stroke="#000" stroke-width="0.9"/>
<text x="189.6" y="175.3" font-size="9" text-anchor="middle" textLength="12.5" lengthAdjust="spacingAndGlyphs">0.6</text>
<line x1="236.3" x2="236.3" y1="162.4" y2="165.6" stroke="#000" stroke-width="0.9"/>
<text x="236.2" y="175.3" font-size="9" text-anchor="middle" textLength="12.5" lengthAdjust="spacingAndGlyphs">0.8</text>
<line x1="195" x2="212.7" y1="101.8" y2="101.8" stroke="#000000" stroke-width="1.5"/>
<text x="214.7" y="104.5" font-size="8.4" textLength="26.4" lengthAdjust="spacingAndGlyphs">20 min</text>
<line x1="195" x2="212.7" y1="112.2" y2="112.2" stroke="#FF0000" stroke-width="1.5"/>
<text x="214.7" y="114.9" font-size="8.4" textLength="26.4" lengthAdjust="spacingAndGlyphs">30 min</text>
<line x1="195" x2="212.7" y1="122.6" y2="122.6" stroke="#0000FF" stroke-width="1.5"/>
<text x="214.7" y="125.3" font-size="8.4" textLength="26.4" lengthAdjust="spacingAndGlyphs">40 min</text>
<line x1="195" x2="212.7" y1="133.0" y2="133.0" stroke="#FF00FF" stroke-width="1.5"/>
<text x="214.7" y="135.7" font-size="8.4" textLength="26.4" lengthAdjust="spacingAndGlyphs">50 min</text>
<line x1="195" x2="212.7" y1="143.4" y2="143.4" stroke="#008000" stroke-width="1.5"/>
<text x="214.7" y="146.1" font-size="8.4" textLength="26.4" lengthAdjust="spacingAndGlyphs">60 min</text>
<line x1="195" x2="212.7" y1="153.8" y2="153.8" stroke="#00008B" stroke-width="1.5"/>
<text x="214.7" y="156.5" font-size="8.4" textLength="26.4" lengthAdjust="spacingAndGlyphs">70 min</text>
<text transform="translate(12 113.7) rotate(-90)" font-size="10.7" textLength="60.5" lengthAdjust="spacingAndGlyphs">Current (μA)</text>
<text x="86.8" y="190.3" font-size="11.1" textLength="112.8" lengthAdjust="spacingAndGlyphs">Potential (V vs. Fc<tspan font-size="5.6" dy="-6" dx="0.6">+</tspan><tspan dy="6">/Fc)</tspan></text>
<text class="cap" x="119.4" y="235.3" font-size="11.7">(<tspan font-weight="bold" font-size="10.6" dy="0" dx="-0.3">a</tspan><tspan dy="0" dx="-0.3">)</tspan></text>
<!-- right chart (b) -->
<line x1="305.1" x2="308.5" y1="13.8" y2="13.8" stroke="#000" stroke-width="0.9"/>
<text x="303.1" y="16.4" font-size="9.5" text-anchor="end" textLength="12.7" lengthAdjust="spacingAndGlyphs">3.4</text>
<line x1="305.1" x2="308.5" y1="47.6" y2="47.6" stroke="#000" stroke-width="0.9"/>
<text x="303.1" y="50.3" font-size="9.5" text-anchor="end" textLength="12.7" lengthAdjust="spacingAndGlyphs">3.2</text>
<line x1="305.1" x2="308.5" y1="81.5" y2="81.5" stroke="#000" stroke-width="0.9"/>
<text x="303.1" y="84.2" font-size="9.5" text-anchor="end" textLength="12.7" lengthAdjust="spacingAndGlyphs">3.0</text>
<line x1="305.1" x2="308.5" y1="115.4" y2="115.4" stroke="#000" stroke-width="0.9"/>
<text x="303.1" y="118.1" font-size="9.5" text-anchor="end" textLength="12.7" lengthAdjust="spacingAndGlyphs">2.8</text>
<line x1="305.1" x2="308.5" y1="149.2" y2="149.2" stroke="#000" stroke-width="0.9"/>
<text x="303.1" y="151.9" font-size="9.5" text-anchor="end" textLength="12.7" lengthAdjust="spacingAndGlyphs">2.6</text>
<line x1="305.1" x2="308.5" y1="183.1" y2="183.1" stroke="#000" stroke-width="0.9"/>
<text x="303.1" y="185.8" font-size="9.5" text-anchor="end" textLength="12.7" lengthAdjust="spacingAndGlyphs">2.4</text>
<line x1="507.3" x2="510.3" y1="14.9" y2="14.9" stroke="#FF8000" stroke-width="0.9"/>
<text class="o" x="514.3" y="17.6" font-size="9.5" textLength="12.7" lengthAdjust="spacingAndGlyphs">3.5</text>
<line x1="507.3" x2="510.3" y1="39.0" y2="39.0" stroke="#FF8000" stroke-width="0.9"/>
<text class="o" x="514.3" y="41.7" font-size="9.5" textLength="12.7" lengthAdjust="spacingAndGlyphs">3.0</text>
<line x1="507.3" x2="510.3" y1="63.0" y2="63.0" stroke="#FF8000" stroke-width="0.9"/>
<text class="o" x="514.3" y="65.7" font-size="9.5" textLength="12.7" lengthAdjust="spacingAndGlyphs">2.5</text>
<line x1="507.3" x2="510.3" y1="87.1" y2="87.1" stroke="#FF8000" stroke-width="0.9"/>
<text class="o" x="514.3" y="89.8" font-size="9.5" textLength="12.7" lengthAdjust="spacingAndGlyphs">2.0</text>
<line x1="507.3" x2="510.3" y1="111.1" y2="111.1" stroke="#FF8000" stroke-width="0.9"/>
<text class="o" x="514.3" y="113.8" font-size="9.5" textLength="12.7" lengthAdjust="spacingAndGlyphs">1.5</text>
<line x1="507.3" x2="510.3" y1="135.1" y2="135.1" stroke="#FF8000" stroke-width="0.9"/>
<text class="o" x="514.3" y="137.8" font-size="9.5" textLength="12.7" lengthAdjust="spacingAndGlyphs">1.0</text>
<line x1="507.3" x2="510.3" y1="159.2" y2="159.2" stroke="#FF8000" stroke-width="0.9"/>
<text class="o" x="514.3" y="161.9" font-size="9.5" textLength="12.7" lengthAdjust="spacingAndGlyphs">0.5</text>
<line x1="507.3" x2="510.3" y1="183.2" y2="183.2" stroke="#FF8000" stroke-width="0.9"/>
<text class="o" x="514.3" y="185.9" font-size="9.5" textLength="12.7" lengthAdjust="spacingAndGlyphs">0.0</text>
<line x1="321.3" x2="321.3" y1="183.1" y2="186.6" stroke="#000" stroke-width="0.9"/>
<text x="320.4" y="198.6" font-size="9.3" text-anchor="middle" textLength="45.8" lengthAdjust="spacingAndGlyphs">Pure LATP</text>
<line x1="374.5" x2="374.5" y1="183.1" y2="186.6" stroke="#000" stroke-width="0.9"/>
<text x="374.3" y="198.6" font-size="9.3" text-anchor="middle" textLength="19.1" lengthAdjust="spacingAndGlyphs">DMF</text>
<line x1="427.4" x2="427.4" y1="183.1" y2="186.6" stroke="#000" stroke-width="0.9"/>
<text x="427.3" y="198.6" font-size="9.3" text-anchor="middle" textLength="27.1" lengthAdjust="spacingAndGlyphs">DMSO</text>
<line x1="480.5" x2="480.5" y1="183.1" y2="186.6" stroke="#000" stroke-width="0.9"/>
<text x="479.8" y="198.6" font-size="9.3" text-anchor="middle" textLength="18.9" lengthAdjust="spacingAndGlyphs">NMP</text>
<rect x="361.50" y="81.5" width="26" height="101.6" fill="#A80FA0" stroke="#1c0018" stroke-width="1"/>
<path d="M374.6 63.0V100.3M372.8 63.0h3.6M372.8 100.3h3.6" stroke="#000" stroke-width="0.9" fill="none"/>
<text x="375.0" y="57.7" font-size="8.8" text-anchor="middle" textLength="12" lengthAdjust="spacingAndGlyphs">3.0</text>
<rect x="414.50" y="132.5" width="26" height="50.6" fill="#A80FA0" stroke="#1c0018" stroke-width="1"/>
<path d="M427.6 114.2V150.8M425.8 114.2h3.6M425.8 150.8h3.6" stroke="#000" stroke-width="0.9" fill="none"/>
<text x="428.2" y="108.9" font-size="8.8" text-anchor="middle" textLength="12" lengthAdjust="spacingAndGlyphs">2.7</text>
<rect x="467.50" y="64.7" width="26" height="118.4" fill="#A80FA0" stroke="#1c0018" stroke-width="1"/>
<path d="M480.6 45.8V83.4M478.8 45.8h3.6M478.8 83.4h3.6" stroke="#000" stroke-width="0.9" fill="none"/>
<text x="480.8" y="41.0" font-size="8.8" text-anchor="middle" textLength="12" lengthAdjust="spacingAndGlyphs">3.1</text>
<path d="M323.8 38.5L324.6 39.8L325.3 41.1L326.1 42.4L326.9 43.7L327.7 45L328.4 46.3L329.2 47.6L330 48.9L330.8 50.1L331.6 51.4L332.3 52.7L333.1 54L333.9 55.3L334.7 56.6L335.5 57.8L336.3 59.1L337.1 60.4L337.9 61.7L338.7 62.9L339.5 64.2L340.3 65.5L341.1 66.8L341.8 68.1L342.6 69.4L343.4 70.7L344.1 72L344.9 73.2L345.6 74.5L346.4 75.8L347.2 77.1L348 78.4L348.7 79.7L349.5 81L350.3 82.3L351.1 83.6L351.8 84.9L352.6 86.1L353.4 87.4L354.2 88.7L355 90L355.8 91.2L356.6 92.5L357.5 93.8L358.3 95L359.1 96.3L360 97.5L360.8 98.8L361.7 100L362.6 101.2L363.5 102.4L364.4 103.6L365.4 104.7L366.3 105.9L367.3 107L368.4 108.1L369.4 109.1L370.5 110.2L370.9 110.5M378.1 116.8L379.2 117.8L380.4 118.7L381.5 119.7L382.7 120.6L383.9 121.6L385 122.5L386.2 123.5L387.4 124.4L388.6 125.2L389.9 126.1L391.1 126.9L392.4 127.7L393.8 128.4L395.1 129L396.5 129.6L397.9 130.1L399.4 130.5L400.8 131L402.3 131.4L403.7 131.8L405.2 132.2L406.6 132.5L408.1 132.8L409.6 133.2L411 133.5L412.5 133.8L414 134L415.5 134.2L417 134.4L418.5 134.4L420 134.4L421.5 134.3L423 134.2L423 134.2M432.2 131.8L433.6 131.3L435 130.8L436.4 130.2L437.8 129.6L439.2 129L440.5 128.3L441.9 127.7L443.2 127L444.6 126.3L445.9 125.6L447.2 124.9L448.5 124.2L449.8 123.4L451.1 122.6L452.4 121.8L453.7 121L454.9 120.2L456.2 119.4L457.4 118.5L458.6 117.7L459.9 116.8L461.1 115.9L462.3 115L463.5 114.1L464.7 113.2L465.9 112.3L467.1 111.4L468.3 110.5L469.5 109.6L470.7 108.7L472 107.8L473.2 107L474.4 106.1L475.6 105.2L476.8 104.3L476.8 104.3" stroke="#FF8000" stroke-width="1.05" fill="none"/>
<circle cx="321.4" cy="34.3" r="2.65" fill="#FF8000"/>
<circle cx="374.5" cy="113.7" r="2.65" fill="#FF8000"/>
<circle cx="427.5" cy="133.3" r="2.65" fill="#FF8000"/>
<circle cx="480.5" cy="101.7" r="2.65" fill="#FF8000"/>
<path d="M308.5 5.5H507.3" fill="none" stroke="#111" stroke-width="0.75"/>
<path d="M308.5 5.1V183.1H507.3" fill="none" stroke="#000" stroke-width="0.95"/>
<path d="M507.3 5.1V183.6" fill="none" stroke="#FF8000" stroke-width="1"/>
<path d="M373.3 131.8H334" fill="none" stroke="#222" stroke-width="1.1"/>
<path d="M331.4 131.8L336.2 130.1V133.5Z" fill="#000"/>
<text transform="translate(280.3 170.6) rotate(-90)" font-size="11.3" textLength="64" lengthAdjust="spacingAndGlyphs">Permeability</text>
<text transform="translate(280.3 104.8) rotate(-90)" font-size="11.3" textLength="72.7" lengthAdjust="spacingAndGlyphs">(10<tspan font-size="6" dy="-5.8">-7</tspan><tspan dy="5.8">cm</tspan><tspan font-size="6" dy="-5.8">2</tspan><tspan dy="5.8"> min</tspan><tspan font-size="6" dy="-5.8">-1</tspan><tspan dy="5.8">)</tspan></text>
<text class="o" transform="translate(543 172.1) rotate(-90)" font-size="11.3" textLength="92.6" lengthAdjust="spacingAndGlyphs">Ionic conductivity</text>
<text class="o" transform="translate(543 77.4) rotate(-90)" font-size="11.3" textLength="60.3" lengthAdjust="spacingAndGlyphs">(10<tspan font-size="6" dy="-5.8">-4</tspan><tspan dy="5.8"> S cm</tspan><tspan font-size="6" dy="-5.8">-1</tspan><tspan dy="5.8">)</tspan></text>
<text class="cap" x="399.1" y="235.3" font-size="11.7">(<tspan font-weight="bold" font-size="10.6" dy="0" dx="-0.3">b</tspan><tspan dy="0" dx="-0.3">)</tspan></text>
</svg>
</body></html>
